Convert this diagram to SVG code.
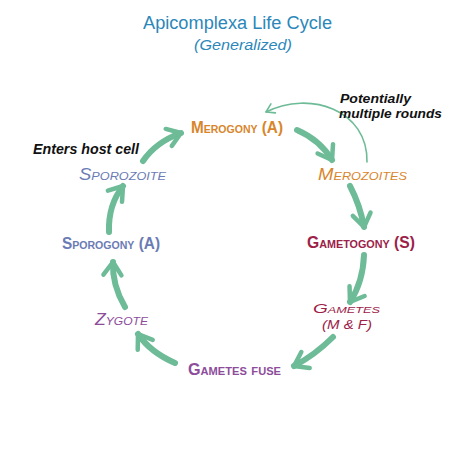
<svg xmlns="http://www.w3.org/2000/svg" width="474" height="474" viewBox="0 0 474 474">
<defs>
<style>
text{font-family:"Liberation Sans",Arial,sans-serif;}
.title{fill:#2b87ba;font-size:18px;}
.sub{fill:#2b87ba;font-size:15px;font-style:italic;}
.sc{font-variant:small-caps;font-size:16px;}
.sm{font-size:13.5px;}
.b{font-weight:bold;}
.i{font-style:italic;}
.note{fill:#111;font-size:14px;font-style:italic;font-weight:bold;}
.note2{font-size:12.5px;}
.orange{fill:#d8862c;}
.blue{fill:#6b7bb5;}
.red{fill:#9c2148;}
.purple{fill:#8d4d9b;}
.thick{fill:none;stroke:#6dbb97;stroke-width:6;stroke-linecap:round;marker-end:url(#head);}
.thin{fill:none;stroke:#6dbb97;stroke-width:1.6;stroke-linecap:round;marker-end:url(#headThin);}
</style>
<marker id="head" markerUnits="userSpaceOnUse" viewBox="-16 -12 20 24" markerWidth="20" markerHeight="24" refX="0" refY="0" orient="auto" overflow="visible">
<path d="M-13,-9 L0,0 L-13,9" fill="none" stroke="#6dbb97" stroke-width="4.5" stroke-linecap="round" stroke-linejoin="round"/>
</marker>
<marker id="headThin" markerUnits="userSpaceOnUse" viewBox="-10 -8 12 16" markerWidth="12" markerHeight="16" refX="0" refY="0" orient="auto" overflow="visible">
<path d="M-8,-5 L0,0 L-8,5" fill="none" stroke="#6dbb97" stroke-width="1.6" stroke-linecap="round" stroke-linejoin="round"/>
</marker>
</defs>
<rect width="474" height="474" fill="#ffffff"/>
<g id="title">
<text class="title" x="143" y="29" textLength="189" lengthAdjust="spacingAndGlyphs">Apicomplexa Life Cycle</text>
<text class="sub" x="194" y="50" textLength="98" lengthAdjust="spacingAndGlyphs">(Generalized)</text>
</g>
<g id="connectors">
<path class="thick" d="M143,161 Q156,142 181,133"/>
<path class="thick" d="M297,130 Q320,140 332,160"/>
<path class="thick" d="M350,186 Q360,205 364,227"/>
<path class="thick" d="M364,255 Q363,282 350,302"/>
<path class="thick" d="M333,337 Q315,355 294,366"/>
<path class="thick" d="M175,363 Q150,352 138,334"/>
<path class="thick" d="M125,307 Q112,285 113,262"/>
<path class="thick" d="M109,232 Q108,205 123,186"/>
<path class="thin" d="M367,162 C368,110 310,90 266,112"/>
</g>
<g id="merogony"><text class="sc b orange" x="191" y="133" textLength="92" lengthAdjust="spacingAndGlyphs">Merogony (A)</text></g>
<g id="note-rounds">
<text class="note note2" x="340" y="103" textLength="71" lengthAdjust="spacingAndGlyphs">Potentially</text>
<text class="note note2" x="339" y="118" textLength="103" lengthAdjust="spacingAndGlyphs">multiple rounds</text>
</g>
<g id="note-enters"><text class="note" x="33" y="154" textLength="106" lengthAdjust="spacingAndGlyphs">Enters host cell</text></g>
<g id="sporozoite"><text class="sc i blue" x="79" y="180" textLength="87" lengthAdjust="spacingAndGlyphs">Sporozoite</text></g>
<g id="merozoites"><text class="sc i orange" x="318" y="180" textLength="89" lengthAdjust="spacingAndGlyphs">Merozoites</text></g>
<g id="sporogony"><text class="sc b blue" x="62" y="249" textLength="98" lengthAdjust="spacingAndGlyphs">Sporogony (A)</text></g>
<g id="gametogony"><text class="sc b red" x="307" y="248" textLength="108" lengthAdjust="spacingAndGlyphs">Gametogony (S)</text></g>
<g id="gametes">
<text class="sc sm i red" x="313" y="313" textLength="67" lengthAdjust="spacingAndGlyphs">Gametes</text>
<text class="sc sm i red" x="322" y="329" textLength="50" lengthAdjust="spacingAndGlyphs">(M &amp; F)</text>
</g>
<g id="zygote"><text class="sc i purple" x="95" y="325" textLength="53" lengthAdjust="spacingAndGlyphs">Zygote</text></g>
<g id="gametes-fuse"><text class="sc b purple" x="188" y="375" textLength="93" lengthAdjust="spacingAndGlyphs">Gametes fuse</text></g>
</svg>
